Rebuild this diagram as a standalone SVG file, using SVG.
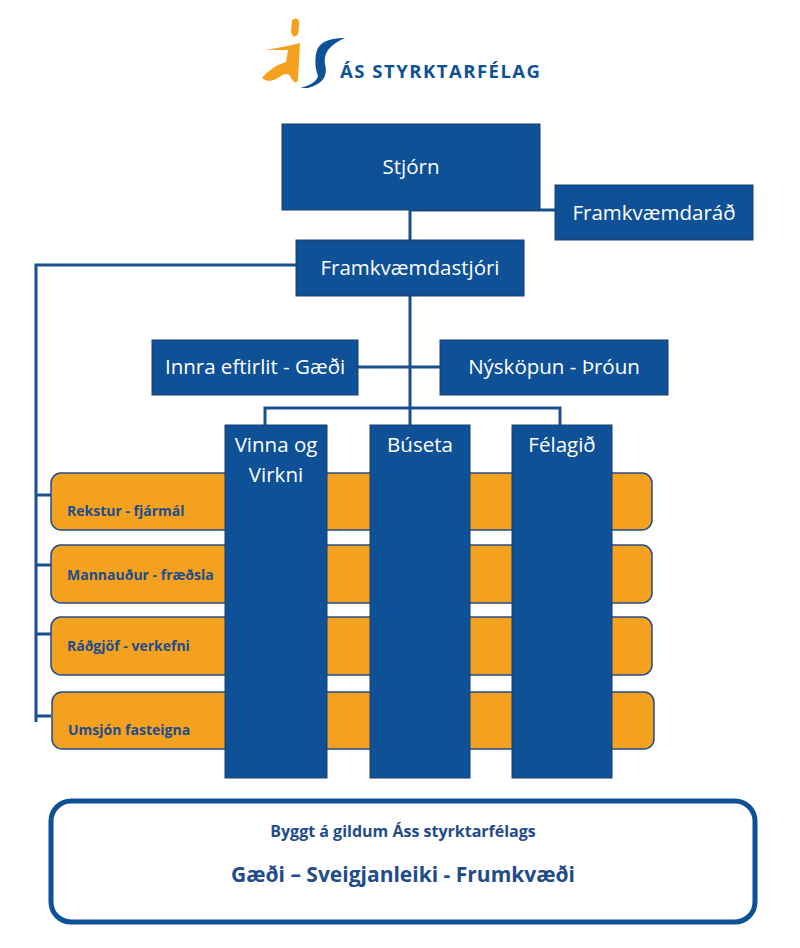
<svg xmlns="http://www.w3.org/2000/svg" width="800" height="948" viewBox="0 0 800 948">
<style>
.b{fill:#0f5197;stroke:#1f3f6a;stroke-width:1}
.o{fill:#f4a11f;stroke:#1f4c8a;stroke-width:1.5}
.w{fill:#fff;font-family:"Open Sans",sans-serif;font-size:20.5px;text-anchor:middle}
.ot{fill:#1f4c8a;font-family:"Open Sans",sans-serif;font-weight:bold;font-size:14px}
.c{stroke:#1a4f8f;stroke-width:3;fill:none}
</style>
<g id="logo">
<path d="M292 20 Q302 14 298 34 Q294 40 291 32 Z" fill="#f4a11f"/>
<path d="M266 50 Q290 46 300 43 L298 80 Q296 86 291 78 Q288 70 278 78 Q268 84 262 78 Q272 66 286 62 L288 50 Z" fill="#f4a11f"/>
<path d="M345 38 Q318 38 316 54 Q314 66 318 76 Q316 84 300 88 L308 88 Q330 82 325 64 Q322 48 345 38 Z" fill="#0f5197"/>
<text x="340" y="78" font-family="'Open Sans',sans-serif" font-weight="bold" font-size="18.5" fill="#0f5197" letter-spacing="1.5">ÁS STYRKTARFÉLAG</text>
</g>
<g id="connectors" class="c">
<path d="M410 210 V240 M410 210 H555 M296 265 H36 V722 M36 495 H51 M36 565 H51 M36 634 H51 M36 716 H51 M410 296 V408 M358 367 H440 M265 425 V408 H560 V425 M410 408 V425"/>
</g>
<g id="orange">
<rect class="o" x="51" y="473" width="601" height="57" rx="10"/>
<rect class="o" x="51" y="545" width="601" height="58" rx="10"/>
<rect class="o" x="51" y="617" width="601" height="58" rx="10"/>
<rect class="o" x="52" y="692" width="602" height="57" rx="10"/>
<text class="ot" x="67" y="516">Rekstur - fjármál</text>
<text class="ot" x="67" y="580">Mannauður - fræðsla</text>
<text class="ot" x="67" y="651">Ráðgjöf - verkefni</text>
<text class="ot" x="68" y="735">Umsjón fasteigna</text>
</g>
<g id="stjorn"><rect class="b" x="282" y="124" width="258" height="86"/><text class="w" x="411" y="174">Stjórn</text></g>
<g id="framkvaemdarad"><rect class="b" x="555" y="185" width="198" height="55"/><text class="w" x="654" y="220">Framkvæmdaráð</text></g>
<g id="framkvaemdastjori"><rect class="b" x="296" y="240" width="228" height="56"/><text class="w" x="410" y="275">Framkvæmdastjóri</text></g>
<g id="innra"><rect class="b" x="152" y="340" width="206" height="55"/><text class="w" x="255" y="374">Innra eftirlit - Gæði</text></g>
<g id="nyskopun"><rect class="b" x="440" y="340" width="228" height="55"/><text class="w" x="554" y="374">Nýsköpun - Þróun</text></g>
<g id="vinna"><rect class="b" x="225" y="425" width="102" height="353"/><text class="w" x="276" y="452">Vinna og</text><text class="w" x="276" y="482">Virkni</text></g>
<g id="buseta"><rect class="b" x="370" y="425" width="100" height="353"/><text class="w" x="420" y="452">Búseta</text></g>
<g id="felagid"><rect class="b" x="512" y="425" width="100" height="353"/><text class="w" x="562" y="452">Félagið</text></g>
<g id="footer">
<rect x="51" y="801" width="704" height="121" rx="20" fill="#fff" stroke="#0f5197" stroke-width="5"/>
<text x="403" y="837" text-anchor="middle" font-family="'Open Sans',sans-serif" font-weight="bold" font-size="16" fill="#1f4c8a">Byggt á gildum Áss styrktarfélags</text>
<text x="403" y="882" text-anchor="middle" font-family="'Open Sans',sans-serif" font-weight="bold" font-size="21" fill="#1f4c8a">Gæði – Sveigjanleiki - Frumkvæði</text>
</g>
</svg>
